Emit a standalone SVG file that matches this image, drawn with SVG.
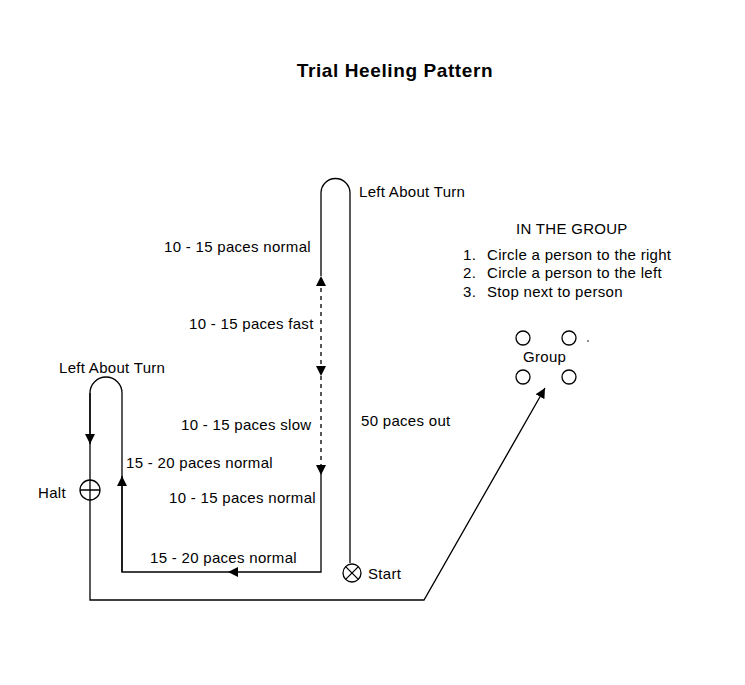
<svg xmlns="http://www.w3.org/2000/svg" width="745" height="685" viewBox="0 0 745 685">
<style>
text{font-family:"Liberation Sans",Arial,sans-serif;font-size:15px;letter-spacing:0.3px;fill:#000}
.l{fill:none;stroke:#000;stroke-width:1.3}
.d{stroke-dasharray:4,4}
</style>
<defs><marker id="a" viewBox="0 0 10 10" refX="10" refY="5" markerWidth="10" markerHeight="10" markerUnits="userSpaceOnUse" orient="auto"><path d="M0,0L10,5L0,10z"/></marker></defs>
<rect width="745" height="685" fill="#fff"/>
<text x="395" y="77" text-anchor="middle" style="font-weight:bold;font-size:19px;letter-spacing:0.6px">Trial Heeling Pattern</text>
<g id="connectors">
<path class="l" d="M321,276V193A14.5,14.5 0 0 1 350,193V563" marker-start="url(#a)"/>
<path class="l d" d="M321,280V376" marker-end="url(#a)"/>
<path class="l d" d="M321,376V475" marker-end="url(#a)"/>
<path class="l" d="M321,475V572H228" marker-end="url(#a)"/>
<path class="l" d="M228,572H122V393A16,16 0 0 0 90,393V600H424L545,388" marker-end="url(#a)"/>
<path class="l" d="M90,393V444" marker-end="url(#a)"/>
<path class="l" d="M122,572V476" marker-end="url(#a)"/>
</g>
<g id="halt"><circle cx="90" cy="490" r="10" fill="#fff" stroke="#000" stroke-width="1.3"/><path class="l" d="M80,490H100M90,480V500"/><text x="38" y="498">Halt</text></g>
<g id="start"><circle cx="352" cy="573" r="9" fill="#fff" stroke="#000" stroke-width="1.3"/><path class="l" d="M345.6,566.6L358.4,579.4M358.4,566.6L345.6,579.4"/><text x="368" y="579">Start</text></g>
<g id="group"><circle class="l" cx="523" cy="338" r="7"/><circle class="l" cx="569" cy="338" r="7"/><circle class="l" cx="523" cy="377" r="7"/><circle class="l" cx="569" cy="377" r="7"/><circle cx="588" cy="341" r="0.8"/><text x="523" y="362">Group</text></g>
<g id="labels">
<text x="359" y="197">Left About Turn</text>
<text x="59" y="373">Left About Turn</text>
<text x="164" y="252">10 - 15 paces normal</text>
<text x="189" y="329">10 - 15 paces fast</text>
<text x="181" y="430">10 - 15 paces slow</text>
<text x="361" y="426">50 paces out</text>
<text x="126" y="468">15 - 20 paces normal</text>
<text x="169" y="503">10 - 15 paces normal</text>
<text x="150" y="563">15 - 20 paces normal</text>
</g>
<g id="inthegroup">
<text x="516" y="234">IN THE GROUP</text>
<text x="463" y="260">1.</text><text x="487" y="260">Circle a person to the right</text>
<text x="463" y="278">2.</text><text x="487" y="278">Circle a person to the left</text>
<text x="463" y="297">3.</text><text x="487" y="297">Stop next to person</text>
</g>
</svg>
